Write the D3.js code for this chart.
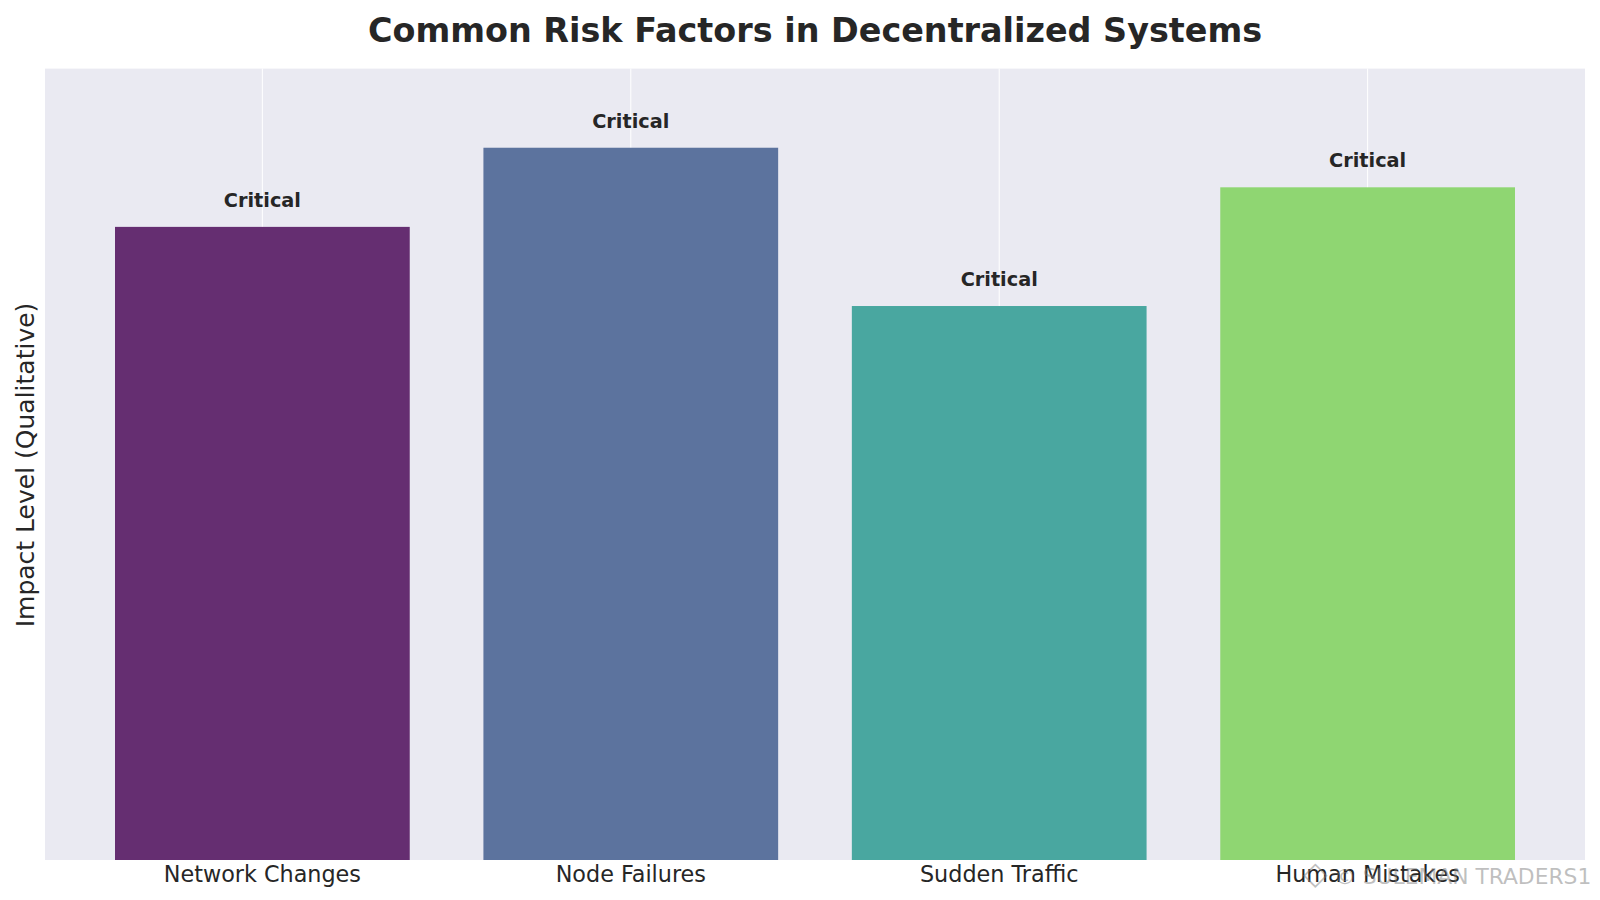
<!DOCTYPE html>
<html><head><meta charset="utf-8">
<script src="https://cdn.jsdelivr.net/npm/d3@7"></script>
<style>html,body{margin:0;padding:0;background:#fff}svg{display:block}</style>
</head><body><svg id="c" width="1600" height="900"></svg>
<script>
const categories = ["Network Changes","Node Failures","Sudden Traffic","Human Mistakes"];
const impact = [8,9,7,8.5];
const labels = ["Critical","Critical","Critical","Critical"];
const colors = ["#652e71","#5c739e","#49a7a0","#8fd672"];
const font = "'DejaVu Sans', sans-serif";
const ink = "#262626";
const m = {l:45,r:1585,t:68.6,b:860};
const svg = d3.select("#c");
const x = d3.scaleBand().domain(categories).range([m.l,m.r]).paddingInner(0.2).paddingOuter(0.19);
const y = d3.scaleLinear().domain([0,10]).range([m.b,m.t]);
svg.append("rect").attr("x",m.l).attr("y",m.t).attr("width",m.r-m.l).attr("height",m.b-m.t).attr("fill","#eaeaf2");
svg.append("g").selectAll("line").data(categories).join("line")
  .attr("x1",d=>x(d)+x.bandwidth()/2).attr("x2",d=>x(d)+x.bandwidth()/2)
  .attr("y1",m.t).attr("y2",m.b).attr("stroke","#fff").attr("stroke-width",1);
svg.append("g").selectAll("rect").data(categories).join("rect")
  .attr("x",d=>x(d)).attr("width",x.bandwidth())
  .attr("y",(d,i)=>y(impact[i])).attr("height",(d,i)=>y(0)-y(impact[i]))
  .attr("fill",(d,i)=>colors[i]);
svg.append("g").selectAll("text").data(categories).join("text")
  .attr("x",d=>x(d)+x.bandwidth()/2).attr("y",(d,i)=>y(impact[i])-20)
  .attr("text-anchor","middle").attr("font-family",font).attr("font-weight","bold")
  .attr("font-size",19.3).attr("fill",ink).text((d,i)=>labels[i]);
const ax = svg.append("g").attr("transform",`translate(0,${m.b})`).call(d3.axisBottom(x).tickSize(0).tickPadding(4));
ax.select(".domain").remove();
ax.selectAll("text").attr("font-family",font).attr("font-size",22.3).attr("fill",ink).attr("dy","0.82em");
svg.append("text").attr("x",815).attr("y",41.5).attr("text-anchor","middle").attr("font-family",font)
  .attr("font-weight","bold").attr("font-size",33.4).attr("fill",ink).text("Common Risk Factors in Decentralized Systems");
svg.append("text").attr("transform","translate(34,465) rotate(-90)").attr("text-anchor","middle").attr("font-family",font)
  .attr("font-size",25).attr("fill",ink).text("Impact Level (Qualitative)");
const wm = svg.append("text").attr("y",884).attr("font-family",font).attr("fill","#808080").attr("fill-opacity",0.5);
wm.append("tspan").attr("x",1303).attr("font-size",32).text("\u25C7");
wm.append("tspan").attr("x",1334).attr("font-size",21.8).text("© SULEMAN TRADERS1");
</script></body></html>
